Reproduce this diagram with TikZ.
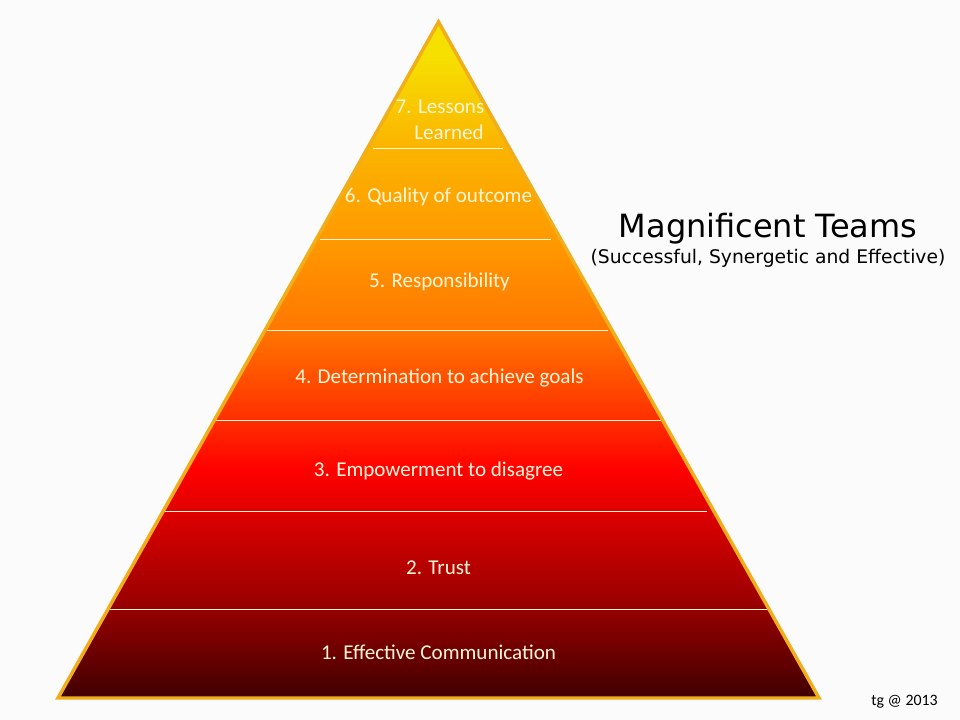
\documentclass[tikz,border=0pt]{standalone}
\usepackage{fontspec}
\setmainfont{Carlito}
\newfontfamily\titlefont{DejaVu Sans}
\definecolor{pyrA}{HTML}{400000}
\definecolor{pyrB}{HTML}{950000}
\definecolor{pyrC}{HTML}{E00000}
\definecolor{pyrD}{HTML}{FF0000}
\definecolor{pyrE}{HTML}{FF3000}
\definecolor{pyrF}{HTML}{FF7800}
\definecolor{pyrG}{HTML}{FF9A00}
\definecolor{pyrH}{HTML}{FBB400}
\definecolor{pyrI}{HTML}{F6E000}
\definecolor{bgcol}{HTML}{FBFBFC}
\definecolor{edgecol}{HTML}{EFAE1A}
\definecolor{labelcol}{HTML}{FFF6D8}
\pgfdeclareverticalshading{pyr}{100bp}{
 color(0bp)=(pyrA); color(25bp)=(pyrA); color(31.55bp)=(pyrB); color(38.9bp)=(pyrC); color(41.85bp)=(pyrD);
 color(45.7bp)=(pyrE); color(52.4bp)=(pyrF); color(59bp)=(pyrG); color(65.75bp)=(pyrH);
 color(72.5bp)=(pyrI); color(100bp)=(pyrI)}
\tikzset{
 x=0.75pt,y=-0.75pt,
 lab/.style={text=labelcol,font=\fontsize{15.8}{18}\selectfont,inner sep=0pt,anchor=center},
 divider/.style={draw=labelcol,line width=0.6pt},
 pyredge/.style={draw=edgecol,line width=2.6pt,line join=miter}
}
\begin{document}
\begin{tikzpicture}
\useasboundingbox (0,0) rectangle (960,720);
\fill[bgcol] (0,0) rectangle (960,720);
\coordinate (apex) at (438.5,22);
\coordinate (bl) at (58,698);
\coordinate (br) at (819,698);
\shade[shading=pyr] (apex) -- (bl) -- (br) -- cycle;
\draw[divider] (373,148) -- (503,148);
\draw[divider] (320,239) -- (551,239);
\draw[divider] (267,330) -- (608,330);
\draw[divider] (215,420) -- (663,420);
\draw[divider] (165,511) -- (707,511);
\draw[divider] (108,609) -- (768,609);
\draw[pyredge] (apex) -- (bl) -- (br) -- cycle;
\node[lab] (l7a) at (440,107) {7. Lessons};
\node[lab,anchor=east] (l7b) at (484,132.5) {Learned};
\node[lab] (l6) at (438.5,197) {6. Quality of outcome};
\node[lab] (l5) at (439.5,282) {5. Responsibility};
\node[lab] (l4) at (439.5,378) {4. Determination to achieve goals};
\node[lab] (l3) at (438.5,471) {3. Empowerment to disagree};
\node[lab] (l2) at (438.5,568) {2. Trust};
\node[lab] (l1) at (438.5,652.5) {1. Effective Communication};
\node[inner sep=0pt,font=\titlefont\fontsize{24}{28}\selectfont] (title) at (768,229) {Magnificent Teams};
\node[inner sep=0pt,font=\titlefont\fontsize{14.06}{18}\selectfont] (sub) at (768,258) {(Successful, Synergetic and Effective)};
\node[inner sep=0pt,font=\fontsize{11.9}{14}\selectfont] (tg) at (904.5,702) {tg @ 2013};
\end{tikzpicture}
\end{document}
